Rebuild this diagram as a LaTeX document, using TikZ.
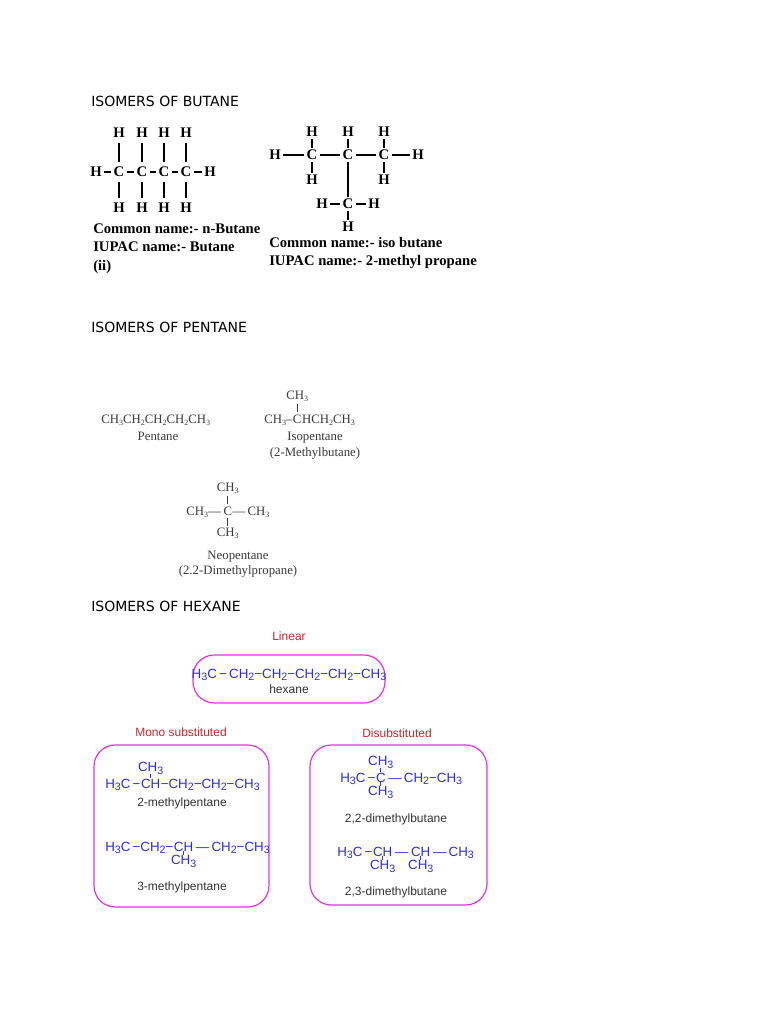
\documentclass[tikz,border=0pt]{standalone}
\usepackage{fontspec}
\setmainfont{Liberation Serif}
\newfontfamily\headf{DejaVu Sans}
\newfontfamily\arialf{Liberation Sans}
\newcommand\pd[1]{\raisebox{-.35ex}{\fontsize{6}{7}\selectfont #1}}
\newcommand\hd[1]{\raisebox{-.35ex}{\fontsize{8}{9}\selectfont #1}}
\definecolor{chemblue}{HTML}{2E2EE0}
\definecolor{boxmag}{HTML}{E632E6}
\definecolor{lblred}{HTML}{C8282D}
\definecolor{pgray}{HTML}{3A3A3A}
\tikzset{
  head/.style={anchor=base west,font=\headf\fontsize{10.5}{12}\selectfont,inner sep=0},
  atom/.style={font=\bfseries\fontsize{11}{12}\selectfont,inner sep=1.6pt},
  bond/.style={line width=1.1pt},
  bname/.style={anchor=base west,font=\bfseries\fontsize{11}{12}\selectfont,inner sep=0},
  pent/.style={font=\fontsize{9.6}{11}\selectfont,text=pgray,inner sep=0},
  pbond/.style={draw=pgray,line width=0.5pt},
  hx/.style={font=\arialf\fontsize{10}{12}\selectfont,text=chemblue,inner sep=0},
  hxl/.style={font=\arialf\fontsize{9}{11}\selectfont,text=black!80,inner sep=0},
  hxbond/.style={draw=chemblue,line width=0.7pt},
  grp/.style={draw=boxmag,line width=0.9pt,rounded corners=16},
  cat/.style={font=\arialf\fontsize{9}{11}\selectfont,text=lblred,inner sep=0}
}
\begin{document}
\begin{tikzpicture}[x=0.75pt,y=-0.75pt]
\fill[white] (0,0) rectangle (768,1024);
\useasboundingbox (0,0) rectangle (768,1024);
% headings
\node[head] (h1) at (91,106) {ISOMERS OF BUTANE};
\node[head] (h2) at (91,332) {ISOMERS OF PENTANE};
\node[head] (h3) at (91,611) {ISOMERS OF HEXANE};
% n-butane
\node[atom] (lh) at (96,172) {H};
\node[atom] (c1) at (119,172) {C};
\node[atom] (c2) at (142,172) {C};
\node[atom] (c3) at (164,172) {C};
\node[atom] (c4) at (186,172) {C};
\node[atom] (rh) at (210,172) {H};
\foreach \i/\x in {1/119,2/142,3/164,4/186}{
  \node[atom] (t\i) at (\x,133) {H};
  \node[atom] (b\i) at (\x,208) {H};
  \draw[bond,shorten <=2pt,shorten >=2pt] (t\i) -- (c\i);
  \draw[bond,shorten <=2pt,shorten >=2pt] (c\i) -- (b\i);
}
\draw[bond] (lh) -- (c1); \draw[bond] (c1) -- (c2); \draw[bond] (c2) -- (c3);
\draw[bond] (c3) -- (c4); \draw[bond] (c4) -- (rh);
\node[bname] (n1) at (93,233) {Common name:- n-Butane};
\node[bname] (n2) at (93,251) {IUPAC name:- Butane};
\node[bname] (n3) at (93,270) {(ii)};
% isobutane
\node[atom] (ih1) at (275,155) {H};
\node[atom] (ic1) at (312,155) {C};
\node[atom] (ic2) at (348,155) {C};
\node[atom] (ic3) at (384,155) {C};
\node[atom] (ih2) at (418,155) {H};
\node[atom] (it1) at (312,132) {H};
\node[atom] (it2) at (348,132) {H};
\node[atom] (it3) at (384,132) {H};
\node[atom] (ib1) at (312,180) {H};
\node[atom] (ib3) at (384,180) {H};
\node[atom] (jc) at (348,204) {C};
\node[atom] (jl) at (322,204) {H};
\node[atom] (jr) at (374,204) {H};
\node[atom] (jb) at (348,227) {H};
\draw[bond] (ih1) -- (ic1); \draw[bond] (ic1) -- (ic2); \draw[bond] (ic2) -- (ic3); \draw[bond] (ic3) -- (ih2);
\draw[bond] (it1) -- (ic1); \draw[bond] (it2) -- (ic2); \draw[bond] (it3) -- (ic3);
\draw[bond] (ic1) -- (ib1); \draw[bond] (ic3) -- (ib3);
\draw[bond] (ic2) -- (jc); \draw[bond] (jl) -- (jc); \draw[bond] (jc) -- (jr); \draw[bond] (jc) -- (jb);
\node[bname] (n4) at (269,247) {Common name:- iso butane};
\node[bname] (n5) at (269,265) {IUPAC name:- 2-methyl propane};
% pentane
\node[pent,anchor=base west] (p1) at (101,423) {CH\pd3CH\pd2CH\pd2CH\pd2CH\pd3};
\node[pent,anchor=base] (p1l) at (158,440) {Pentane};
\node[pent,anchor=base west] (q1) at (264,423) {CH\pd3--};
\node[pent,anchor=base west] (q2) at (q1.base east) {C};
\node[pent,anchor=base west] (q3) at (q2.base east) {HCH\pd2CH\pd3};
\node[pent,anchor=south] (qt) at ([yshift=9pt]q2.north) {CH\pd3};
\draw[pbond] ([yshift=2pt]q2.north) -- ([yshift=-1pt]qt.south);
\node[pent,anchor=base] (ql1) at (315,440) {Isopentane};
\node[pent,anchor=base] (ql2) at (315,456) {(2-Methylbutane)};
\node[pent,anchor=base west] (r1) at (186,515) {CH\pd3---\,};
\node[pent,anchor=base west] (r2) at (r1.base east) {C};
\node[pent,anchor=base west] (r3) at (r2.base east) {---\,CH\pd3};
\node[pent,anchor=south] (rt) at ([yshift=9pt]r2.north) {CH\pd3};
\node[pent,anchor=north] (rb) at ([yshift=-9pt]r2.south) {CH\pd3};
\draw[pbond] ([yshift=2pt]r2.north) -- ([yshift=-1pt]rt.south);
\draw[pbond] ([yshift=-2pt]r2.south) -- ([yshift=1pt]rb.north);
\node[pent,anchor=base] (rl1) at (238,559) {Neopentane};
\node[pent,anchor=base] (rl2) at (238,574) {(2.2-Dimethylpropane)};
% hexane
\node[cat,anchor=base] (lin) at (289,640) {Linear};
\draw[grp] (193,655) rectangle (385,703);
\node[hx,anchor=base] (hexf) at (289,678) {H\hd3C\,−\,CH\hd2−CH\hd2−CH\hd2−CH\hd2−CH\hd3};
\node[hxl,anchor=base] (hexl) at (289,693) {hexane};
\node[cat,anchor=base] (mono) at (181,736) {Mono substituted};
\node[cat,anchor=base] (di) at (397,737) {Disubstituted};
\draw[grp] (94,745) rectangle (269,907);
\draw[grp] (310,745) rectangle (487,905);
% 2-methylpentane
\node[hx,anchor=base west] (a1) at (105,788) {H\hd3C\,−};
\node[hx,anchor=base west] (a2) at (a1.base east) {CH};
\node[hx,anchor=base west] (a3) at (a2.base east) {−CH\hd2−CH\hd2−CH\hd3};
\node[hx,anchor=south] (at) at ([yshift=3pt]a2.north) {CH\hd3};
\draw[hxbond] (a2.north) -- (at.south);
\node[hxl,anchor=base] (al) at (182,806) {2-methylpentane};
% 3-methylpentane
\node[hx,anchor=base west] (b1) at (105,851) {H\hd3C\,−CH\hd2−};
\node[hx,anchor=base west] (b2) at (b1.base east) {CH};
\node[hx,anchor=base west] (b3) at (b2.base east) {\,—\,CH\hd2−CH\hd3};
\node[hx,anchor=north] (bb) at ([yshift=-3pt]b2.south) {CH\hd3};
\draw[hxbond] (b2.south) -- (bb.north);
\node[hxl,anchor=base] (bl) at (182,890) {3-methylpentane};
% 2,2-dimethylbutane
\node[hx,anchor=base west] (d1) at (340,782) {H\hd3C\,−};
\node[hx,anchor=base west] (d2) at (d1.base east) {C};
\node[hx,anchor=base west] (d3) at (d2.base east) {\,—\,CH\hd2−CH\hd3};
\node[hx,anchor=south] (dt) at ([yshift=3pt]d2.north) {CH\hd3};
\node[hx,anchor=north] (db) at ([yshift=-3pt]d2.south) {CH\hd3};
\draw[hxbond] (d2.north) -- (dt.south);
\draw[hxbond] (d2.south) -- (db.north);
\node[hxl,anchor=base] (dl) at (396,822) {2,2-dimethylbutane};
% 2,3-dimethylbutane
\node[hx,anchor=base west] (e1) at (337,856) {H\hd3C\,−};
\node[hx,anchor=base west] (e2) at (e1.base east) {CH};
\node[hx,anchor=base west] (e3) at (e2.base east) {\,—\,};
\node[hx,anchor=base west] (e4) at (e3.base east) {CH};
\node[hx,anchor=base west] (e5) at (e4.base east) {\,—\,CH\hd3};
\node[hx,anchor=north] (eb1) at ([yshift=-3pt]e2.south) {CH\hd3};
\node[hx,anchor=north] (eb2) at ([yshift=-3pt]e4.south) {CH\hd3};
\draw[hxbond] (e2.south) -- (eb1.north);
\draw[hxbond] (e4.south) -- (eb2.north);
\node[hxl,anchor=base] (el) at (396,895) {2,3-dimethylbutane};
\end{tikzpicture}
\end{document}
